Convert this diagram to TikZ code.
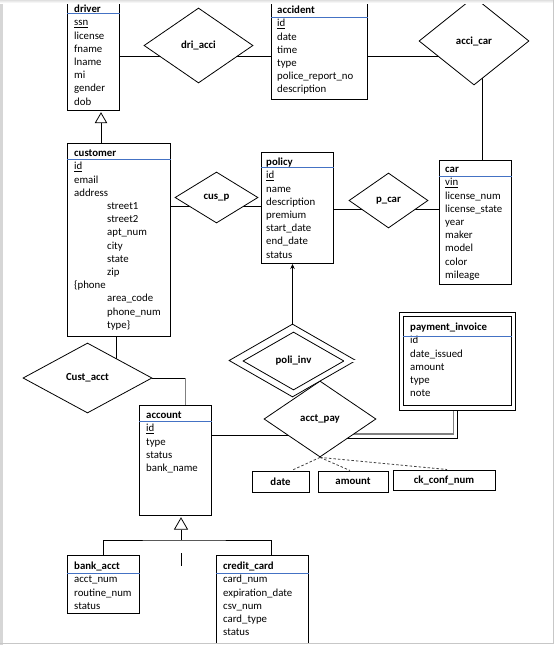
\documentclass[tikz,border=0pt]{standalone}
\usepackage{fontspec}
\setmainfont{Carlito}
\usetikzlibrary{shapes.geometric,arrows.meta}

\definecolor{rulerblue}{RGB}{68,114,196}
\definecolor{framegray}{RGB}{214,214,214}
\pgfdeclarelayer{background}
\pgfsetlayers{background,main}

\begin{document}
\begin{tikzpicture}
[x=1pt, y=-1pt,
entity/.style={draw, line width=1pt, anchor=north west, inner sep=0pt},
attrs/.style={anchor=north west, inner sep=0pt, align=left, font=\fontsize{10.8}{13.2}\selectfont},
titleline/.style={rulerblue, line width=0.8pt},
rel/.style={draw, diamond, fill=white, inner sep=0pt, line width=0.8pt, font=\bfseries\fontsize{10.8}{13}\selectfont},
attrbox/.style={draw, line width=1pt, inner sep=0pt, font=\bfseries\fontsize{10.8}{13}\selectfont},
isa/.style={draw, regular polygon, regular polygon sides=3, inner sep=0pt, line width=0.8pt},
link/.style={line width=0.9pt},
derived/.style={dashed, dash pattern=on 2.5pt off 2pt, line width=0.8pt, black!75},
grayline/.style={gray, line width=1.8pt}]
\useasboundingbox (0,0) rectangle (554,645);

% entities
\node[entity, minimum width=52pt, minimum height=112pt] (driver) at (67,-2) {};
\node[attrs] (driver-txt) at (74,3.3) {\strut\textbf{driver}\\\underline{ssn}\\license\\fname\\lname\\mi\\gender\\dob};
\draw[titleline] ([yshift=-15.5pt]driver.north west) -- ([yshift=-15.5pt]driver.north east);

\node[entity, minimum width=96pt, minimum height=99pt] (accident) at (271,0) {};
\node[attrs] (accident-txt) at (277,4.3) {\strut\textbf{accident}\\\underline{id}\\date\\time\\type\\police\_report\_no\\description};
\draw[titleline] ([yshift=-17pt]accident.north west) -- ([yshift=-17pt]accident.north east);

\node[entity, minimum width=103pt, minimum height=193pt] (customer) at (67,143) {};
\node[attrs] (customer-txt) at (74,147.3) {\strut\textbf{customer}\\\underline{id}\\email\\address\\
\hspace*{33pt}street1\\\hspace*{33pt}street2\\\hspace*{33pt}apt\_num\\\hspace*{33pt}city\\
\hspace*{33pt}state\\\hspace*{33pt}zip\\\{phone\\\hspace*{33pt}area\_code\\
\hspace*{33pt}phone\_num\\\hspace*{33pt}type\}};
\draw[titleline] ([yshift=-16pt]customer.north west) -- ([yshift=-16pt]customer.north east);

\node[entity, minimum width=72pt, minimum height=111pt] (policy) at (261,152) {};
\node[attrs] (policy-txt) at (266,156.3) {\strut\textbf{policy}\\\underline{id}\\name\\description\\premium\\start\_date\\end\_date\\status};
\draw[titleline] ([yshift=-15pt]policy.north west) -- ([yshift=-15pt]policy.north east);

\node[entity, minimum width=72pt, minimum height=124pt] (car) at (439,160) {};
\node[attrs] (car-txt) at (445,163.3) {\strut\textbf{car}\\\underline{vin}\\license\_num\\license\_state\\year\\maker\\model\\color\\mileage};
\draw[titleline] ([yshift=-16pt]car.north west) -- ([yshift=-16pt]car.north east);

\node[entity, minimum width=116pt, minimum height=98pt] (payment) at (399,312) {};
\node[entity, minimum width=108pt, minimum height=89pt] (payment-in) at (403,316) {};
\node[attrs] (payment-txt) at (410,321.3) {\strut\textbf{payment\_invoice}\\id\\date\_issued\\amount\\type\\note};
\draw[titleline] ([yshift=-20pt]payment-in.north west) -- ([yshift=-20pt]payment-in.north east);

\node[entity, minimum width=72pt, minimum height=110pt] (account) at (139,405) {};
\node[attrs] (account-txt) at (146,409.3) {\strut\textbf{account}\\\underline{id}\\type\\status\\bank\_name};
\draw[titleline] ([yshift=-16pt]account.north west) -- ([yshift=-16pt]account.north east);

\node[entity, minimum width=72pt, minimum height=58pt] (bank_acct) at (67,555) {};
\node[attrs] (bank_acct-txt) at (74,560.3) {\strut\textbf{bank\_acct}\\acct\_num\\routine\_num\\status};
\draw[titleline] ([yshift=-18pt]bank_acct.north west) -- ([yshift=-18pt]bank_acct.north east);

\node[entity, minimum width=92pt, minimum height=88pt] (credit_card) at (216,555) {};
\node[attrs] (credit_card-txt) at (223,560.3) {\strut\textbf{credit\_card}\\card\_num\\expiration\_date\\csv\_num\\card\_type\\status};
\draw[titleline] ([yshift=-18pt]credit_card.north west) -- ([yshift=-18pt]credit_card.north east);

% relationships
\node[rel, minimum width=109pt, minimum height=75pt] (dri_acci) at (198.5,45.5) {dri\_acci};
\node[rel, minimum width=110pt, minimum height=88pt] (acci_car) at (474,41) {acci\_car};
\node[rel, minimum width=83pt, minimum height=51pt] (cus_p) at (216.5,197.5) {cus\_p};
\node[rel, minimum width=79pt, minimum height=55pt] (p_car) at (388.5,200.5) {p\_car};
\node[rel, minimum width=112pt, minimum height=76pt] (acct_pay) at (320,419) {acct\_pay};
\node[rel, minimum width=127pt, minimum height=73pt] (poli_inv) at (292.5,360.5) {};
\node[rel, minimum width=101pt, minimum height=58pt] (poli_inv-in) at (293.5,361) {poli\_inv};
\node[rel, minimum width=129pt, minimum height=70pt] (cust_acct) at (87.5,378) {Cust\_acct};

% attributes of acct_pay
\node[attrbox, minimum width=57pt, minimum height=21pt] (date) at (280.5,481.5) {date};
\node[attrbox, minimum width=70pt, minimum height=21pt] (amount) at (353,481.5) {amount};
\node[attrbox, minimum width=102pt, minimum height=20pt] (ck_conf_num) at (444,480) {ck\_conf\_num};

% isa
\node[isa, minimum size=13pt] (isa_drv) at (101,119.5) {};
\node[isa, minimum size=15pt] (isa_acct) at (181,525.5) {};

\coordinate (ca) at ([xshift=10pt]account.north);
\begin{pgfonlayer}{background}
\draw[link] (driver.east |- 0,56) -- (accident.west |- 0,56);
\draw[link] (accident.east |- 0,56) -| ([xshift=7pt]car.north);
\draw[link] (customer.east |- 0,206) -- (policy.west |- 0,206);
\draw[link] (policy.east |- 0,209) -- (car.west |- 0,209);
\draw[link] ([xshift=-3pt]customer.south) -- ([xshift=-3pt]customer.south |- cust_acct.center);
\draw[link] (account.east |- 0,435) -- (acct_pay.center |- 0,435);
\draw[grayline] (acct_pay.center |- 0,434) -| ([xshift=-4pt]payment.south);
\draw[link] (acct_pay.center |- 0,438) -| (payment.south);
\end{pgfonlayer}

\draw[link] (cust_acct.east) -- (cust_acct.east -| ca);
\draw[grayline] (cust_acct.east -| ca) -- (ca);
\draw[link, -{Stealth[length=5pt,width=4.5pt]}] (poli_inv.north) -- (poli_inv.north |- policy.south);
\draw[link, double, double distance=1.6pt, line width=0.6pt] (poli_inv-in.east) -- (payment.west |- poli_inv-in.east);
\draw[derived] (acct_pay.south) -- ([xshift=11pt]date.north);
\draw[derived] (acct_pay.south) -- ([xshift=-3pt]amount.north);
\draw[derived] (acct_pay.south) -- ([xshift=3pt]ck_conf_num.north);

\draw[link] (isa_drv.south) -- (isa_drv.south |- customer.north);
\draw[link] (isa_acct.south) -- (isa_acct.south |- 0,540);
\draw[link] (bank_acct.north) |- (isa_acct.south |- 0,540) -| ([xshift=9pt]credit_card.north);
\draw[link] (isa_acct.south |- 0,553) -- ++(0,13);

% page frame
\fill[framegray] (0,0) rectangle (3,645);
\shade[top color=black!12, bottom color=white] (0,0) rectangle (554,3);
\draw[black!22, line width=1pt] (553,0) -- (553,643.5) -- (0,643.5);
\end{tikzpicture}
\end{document}
